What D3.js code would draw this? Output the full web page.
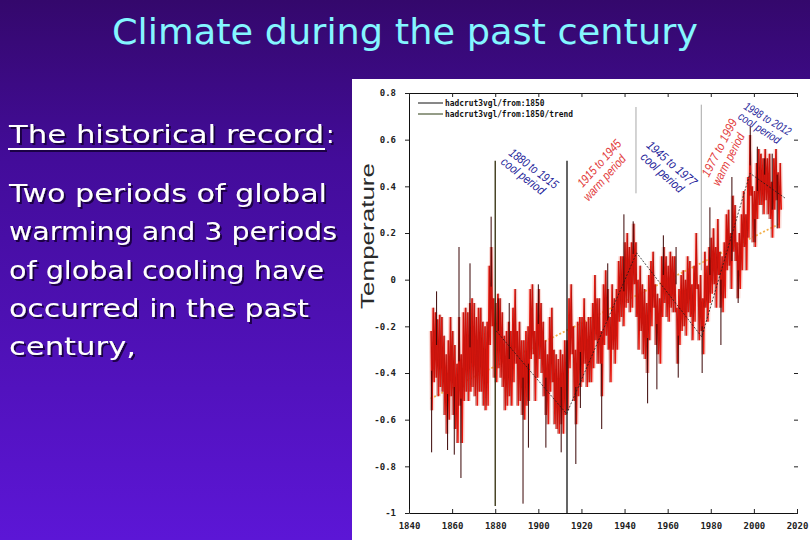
<!DOCTYPE html>
<html>
<head>
<meta charset="utf-8">
<script src="https://cdn.jsdelivr.net/npm/d3@7"></script>
<style>
html, body { margin: 0; padding: 0; background: #3a0a80; }
svg { display: block; }
</style>
</head>
<body>
<svg id="slide" width="810" height="540"></svg>
<script>
// ---- data ----
var firstYear = 1850;
// highest / lowest monthly value seen in each year, 1850..2012
var bandHigh = [
	-0.22,-0.12,-0.14,-0.17,-0.15,-0.16,-0.24,-0.32,-0.26,-0.16,
	-0.22,-0.28,-0.36,-0.16,-0.32,-0.14,-0.12,-0.14,-0.10,-0.08,
	-0.10,-0.16,-0.12,-0.12,-0.18,-0.20,-0.18, 0.06, 0.14,-0.08,
	-0.10,-0.06,-0.08,-0.14,-0.24,-0.22,-0.18,-0.22,-0.12,-0.04,
	-0.22,-0.18,-0.26,-0.26,-0.22,-0.20,-0.04,-0.02,-0.22,-0.10,
	-0.04,-0.10,-0.18,-0.26,-0.32,-0.16,-0.12,-0.30,-0.32,-0.34,
	-0.30,-0.32,-0.26,-0.26,-0.08,-0.02,-0.20,-0.30,-0.18,-0.16,
	-0.16,-0.08,-0.18,-0.16,-0.16,-0.10, 0.02,-0.08,-0.08,-0.22,
	-0.02, 0.04,-0.04,-0.16,-0.02,-0.08,-0.04, 0.08, 0.10, 0.10,
	 0.16, 0.20, 0.14, 0.16, 0.24, 0.16, 0.00, 0.06,-0.02,-0.04,
	-0.10, 0.02, 0.08, 0.12,-0.02,-0.06,-0.08, 0.10, 0.14, 0.10,
	 0.06, 0.12, 0.10, 0.10,-0.12,-0.04, 0.02, 0.04, 0.00, 0.10,
	 0.08,-0.02, 0.06, 0.20,-0.02, 0.02,-0.08, 0.12, 0.06, 0.14,
	 0.18, 0.22, 0.14, 0.26, 0.12, 0.10, 0.16, 0.28, 0.30, 0.20,
	 0.36, 0.32, 0.16, 0.20, 0.28, 0.38, 0.28, 0.44, 0.62, 0.40,
	 0.38, 0.50, 0.56, 0.54, 0.52, 0.56, 0.52, 0.54, 0.42, 0.52,
	 0.56, 0.46, 0.50
];
var bandLow = [
	-0.56,-0.44,-0.42,-0.50,-0.46,-0.48,-0.58,-0.66,-0.60,-0.50,
	-0.58,-0.64,-0.70,-0.54,-0.70,-0.52,-0.48,-0.52,-0.48,-0.46,
	-0.50,-0.54,-0.48,-0.48,-0.54,-0.56,-0.54,-0.28,-0.20,-0.42,
	-0.44,-0.38,-0.42,-0.46,-0.56,-0.54,-0.50,-0.54,-0.44,-0.36,
	-0.54,-0.52,-0.58,-0.60,-0.54,-0.52,-0.34,-0.32,-0.52,-0.42,
	-0.34,-0.40,-0.50,-0.58,-0.62,-0.48,-0.44,-0.62,-0.64,-0.66,
	-0.62,-0.66,-0.58,-0.56,-0.38,-0.32,-0.52,-0.62,-0.50,-0.46,
	-0.44,-0.36,-0.46,-0.44,-0.44,-0.38,-0.26,-0.36,-0.36,-0.50,
	-0.28,-0.24,-0.30,-0.44,-0.30,-0.36,-0.30,-0.18,-0.16,-0.20,
	-0.12,-0.10,-0.14,-0.12,-0.02,-0.16,-0.30,-0.22,-0.32,-0.34,
	-0.40,-0.26,-0.20,-0.12,-0.28,-0.32,-0.36,-0.16,-0.10,-0.16,
	-0.18,-0.12,-0.14,-0.14,-0.36,-0.28,-0.22,-0.20,-0.24,-0.14,
	-0.16,-0.26,-0.18,-0.04,-0.26,-0.22,-0.32,-0.12,-0.18,-0.10,
	-0.06,-0.02,-0.12, 0.02,-0.12,-0.14,-0.08, 0.04, 0.06,-0.04,
	 0.12, 0.08,-0.08,-0.04, 0.04, 0.14, 0.04, 0.18, 0.36, 0.16,
	 0.14, 0.26, 0.32, 0.32, 0.28, 0.34, 0.28, 0.26, 0.18, 0.30,
	 0.34, 0.22, 0.30
];
// single-month excursions drawn as dark spikes: [year, value]
var spikes = [
	[1850.5,-0.74],[1852.8,-0.05],[1857.9,-0.73],[1861.0,-0.75],[1863.2,0.14],
	[1864.1,-0.85],[1868.3,0.07],[1878.1,0.27],[1881.4,-0.08],[1886.5,-0.10],
	[1892.9,-0.96],[1895.4,-0.72],[1900.0,-0.02],[1903.5,-0.72],[1910.6,-0.74],
	[1917.4,-0.79],[1919.5,-0.55],[1929.4,-0.64],[1932.2,0.07],[1939.7,0.28],
	[1944.0,0.25],[1950.7,-0.53],[1955.0,-0.47],[1958.0,0.19],[1963.9,0.14],
	[1964.9,-0.42],[1976.0,-0.40],[1979.6,0.31],[1984.7,-0.28],[1989.8,0.44],
	[1992.7,-0.10],[1998.3,0.66],[2000.5,0.16],[2001.6,0.57],[2005.0,0.52],
	[2008.5,0.54],[2010.8,0.22]
];
// the hand-drawn period trend (dashed black) and the long trend (dotted)
var periodTrend = [[1880.5,-0.22],[1913.1,-0.575],[1945.6,0.115],[1975.8,-0.245],[1998.2,0.456],[2014.4,0.35]];
var longTrend = [[1850,-0.51],[2012,0.24]];
// vertical period markers: [year, top value, bottom value]
var blackMarkers = [[1880.0,0.51,-0.97],[1913.3,0.51,-1.0]];
var grayMarkers = [[1945.3,0.74,0.37],[1975.6,0.75,0.04]];

var xTicks = [1840,1860,1880,1900,1920,1940,1960,1980,2000,2020];
var yTicks = [-1,-0.8,-0.6,-0.4,-0.2,0,0.2,0.4,0.6,0.8];
var legendLabels = ["hadcrut3vgl/from:1850", "hadcrut3vgl/from:1850/trend"];
var periodText = [
	["1880 to 1915","cool period"],
	["1915 to 1945","warm period"],
	["1945 to 1977","cool period"],
	["1977 to 1999","warm period"],
	["1998 to 2012","cool period"]
];
var periodKind = ["cool","warm","cool","warm","cool"];

var titleText = "Climate during the past century";
var headingText = "The historical record";
var bodyLines = ["Two periods of global","warming and 3 periods","of global cooling have","occurred in the past","century,"];

// ---- slide ----
var svg = d3.select("#slide");
var defs = svg.append("defs");
var grad = defs.append("linearGradient").attr("id","bg")
	.attr("x1",0).attr("y1",0).attr("x2",0).attr("y2",1);
grad.append("stop").attr("offset","0%").attr("stop-color","#34086c");
grad.append("stop").attr("offset","30%").attr("stop-color","#430c9a");
grad.append("stop").attr("offset","100%").attr("stop-color","#5c16d6");

var shadow = defs.append("filter").attr("id","shadow")
	.attr("x","-5%").attr("y","-20%").attr("width","115%").attr("height","150%");
shadow.append("feDropShadow").attr("dx",2).attr("dy",2)
	.attr("stdDeviation",0.7).attr("flood-color","#14063a").attr("flood-opacity",0.9);

svg.append("rect").attr("width",810).attr("height",540).attr("fill","url(#bg)");

svg.append("text")
	.attr("x",112).attr("y",44)
	.attr("textLength",586).attr("lengthAdjust","spacingAndGlyphs")
	.style("font-family","'Comic Sans MS','DejaVu Sans',sans-serif")
	.style("font-size","36px")
	.attr("fill","#84f6ff")
	.text(titleText);

var body = svg.append("g").attr("filter","url(#shadow)")
	.style("font-family","'Comic Sans MS','DejaVu Sans',sans-serif")
	.style("font-size","25px")
	.attr("fill","#ffffff");

body.append("text").attr("x",9).attr("y",143)
	.attr("textLength",315).attr("lengthAdjust","spacingAndGlyphs")
	.text(headingText);
body.append("rect").attr("x",8).attr("y",148).attr("width",317).attr("height",2);
body.append("text").attr("x",326).attr("y",143).text(":");

var bodyWidths = [318,328,315,300,127];
body.selectAll("text.line")
	.data(bodyLines)
	.enter().append("text")
		.attr("class","line")
		.attr("x",9)
		.attr("y",function(d,i){ return 202 + i*38.3; })
		.attr("textLength",function(d,i){ return bodyWidths[i]; })
		.attr("lengthAdjust","spacingAndGlyphs")
		.text(function(d){ return d; });

// ---- chart panel ----
svg.append("rect").attr("x",352).attr("y",79).attr("width",458).attr("height",461).attr("fill","#ffffff");

var xscale = d3.scaleLinear().domain([1840,2020]).range([409,797]);
var yscale = d3.scaleLinear().domain([-1,0.8]).range([513,93]);

var chart = svg.append("g");

// band points: high then low inside each year (two phases for the two colours)
var redPts = [], darkPts = [];
bandHigh.forEach(function(h,i){
	var yr = firstYear + i;
	redPts.push([yr+0.2, h]); redPts.push([yr+0.7, bandLow[i]]);
	darkPts.push([yr+0.05, bandLow[i]]); darkPts.push([yr+0.5, h]);
});
var line = d3.line()
	.x(function(d){ return xscale(d[0]); })
	.y(function(d){ return yscale(d[1]); });

chart.append("path").attr("d",line(redPts))
	.attr("fill","none").attr("stroke","#f8b8b0").attr("stroke-width",4.5).attr("opacity",0.5);

// vertical markers
chart.selectAll("line.gmark").data(grayMarkers).enter().append("line")
	.attr("class","gmark")
	.attr("x1",function(d){ return xscale(d[0]); }).attr("x2",function(d){ return xscale(d[0]); })
	.attr("y1",function(d){ return yscale(d[1]); }).attr("y2",function(d){ return yscale(d[2]); })
	.attr("stroke","#a8a8a8").attr("stroke-width",1);

chart.append("path").attr("d",line(longTrend))
	.attr("fill","none").attr("stroke","#f2b04c").attr("stroke-width",1.8)
	.attr("stroke-dasharray","2,2");

chart.append("path").attr("d",line(redPts))
	.attr("fill","none").attr("stroke","#e8180e").attr("stroke-width",1.5);
chart.append("path").attr("d",line(darkPts))
	.attr("fill","none").attr("stroke","#7a0a0a").attr("stroke-width",0.5).attr("opacity",0.55);

chart.selectAll("line.spike").data(spikes).enter().append("line")
	.attr("class","spike")
	.attr("x1",function(d){ return xscale(d[0]); }).attr("x2",function(d){ return xscale(d[0]); })
	.attr("y1",function(d){
		var i = Math.min(bandHigh.length-1, Math.floor(d[0]) - firstYear);
		return yscale((bandHigh[i] + bandLow[i]) / 2);
	})
	.attr("y2",function(d){ return yscale(d[1]); })
	.attr("stroke","#3a0505").attr("stroke-width",1);

chart.selectAll("line.bmark").data(blackMarkers).enter().append("line")
	.attr("class","bmark")
	.attr("x1",function(d){ return xscale(d[0]); }).attr("x2",function(d){ return xscale(d[0]); })
	.attr("y1",function(d){ return yscale(d[1]); }).attr("y2",function(d){ return yscale(d[2]); })
	.attr("stroke",function(d,i){ return i === 0 ? "#2e2a08" : "#111"; }).attr("stroke-width",1.3);

chart.append("path").attr("d",line(periodTrend))
	.attr("fill","none").attr("stroke","#1a1a1a").attr("stroke-width",0.8)
	.attr("stroke-dasharray","2,1.5");

// ---- axes ----
var fmt = function(d){ return d === 0 ? "0" : String(+d.toFixed(1)); };
var tickFont = function(g){
	g.selectAll("text")
		.style("font-family","'DejaVu Sans Mono',monospace")
		.style("font-weight","bold")
		.style("font-size","9px")
		.attr("fill","#222");
	g.selectAll("line").attr("stroke","#222");
	g.select(".domain").attr("stroke","#111");
};

svg.append("g").attr("transform","translate(409,0)")
	.call(d3.axisLeft(yscale).tickValues(yTicks).tickFormat(fmt).tickSizeInner(4).tickSizeOuter(0).tickPadding(9))
	.call(tickFont);
svg.append("g").attr("transform","translate(0,513)")
	.call(d3.axisBottom(xscale).tickValues(xTicks).tickFormat(d3.format("d")).tickSizeInner(-4).tickSizeOuter(0).tickPadding(10))
	.call(tickFont);
svg.append("g").attr("transform","translate(0,93)")
	.call(d3.axisTop(xscale).tickValues(xTicks).tickFormat("").tickSizeInner(-4).tickSizeOuter(0))
	.call(tickFont);
var right = svg.append("g").attr("transform","translate(798,0)")
	.call(d3.axisRight(yscale).tickValues(yTicks).tickFormat("").tickSizeInner(-4).tickSizeOuter(0))
	.call(tickFont);
right.select(".domain").remove();

svg.append("text")
	.attr("transform","translate(374,236) rotate(-90)")
	.attr("text-anchor","middle")
	.attr("textLength",146).attr("lengthAdjust","spacingAndGlyphs")
	.style("font-family","'Liberation Sans',Arial,sans-serif")
	.style("font-size","18px")
	.attr("fill","#2a2a2a")
	.text("Temperature");

// ---- legend ----
var legend = svg.append("g");
legend.selectAll("line").data(legendLabels).enter().append("line")
	.attr("x1",418).attr("x2",443)
	.attr("y1",function(d,i){ return 103 + i*11; }).attr("y2",function(d,i){ return 103 + i*11; })
	.attr("stroke",function(d,i){ return i === 0 ? "#111" : "#2a3a10"; }).attr("stroke-width",1);
legend.selectAll("text").data(legendLabels).enter().append("text")
	.attr("x",445)
	.attr("y",function(d,i){ return 106 + i*11; })
	.attr("textLength",function(d){ return d.length * 4.74; })
	.attr("lengthAdjust","spacingAndGlyphs")
	.style("font-family","'DejaVu Sans Mono',monospace")
	.style("font-weight","bold")
	.style("font-size","9px")
	.attr("fill","#111")
	.text(function(d){ return d; });

// ---- period annotations ----
// placement of each text line in data units: [year, value, angle, length, font size]
var notePlace = [
	[[1897.9,0.477,37,58,12.5],[1893.0,0.445,38,52,12.5]],
	[[1928.2,0.499,-48,59,12.5],[1930.6,0.437,-48,57,12.5]],
	[[1962.0,0.498,41,62,12.5],[1957.6,0.459,42,53,12.5]],
	[[1983.9,0.566,-63,63,12.5],[1988.1,0.516,-63,57,12.5]],
	[[2006.4,0.690,31,53,11.5],[2002.6,0.650,33,48,11.5]]
];
var notes = svg.append("g")
	.style("font-family","'Liberation Sans',Arial,sans-serif")
	.style("font-style","italic");
periodText.forEach(function(lines,k){
	lines.forEach(function(t,j){
		var p = notePlace[k][j];
		notes.append("text")
			.attr("transform","translate(" + xscale(p[0]) + "," + yscale(p[1]) + ") rotate(" + p[2] + ")")
			.attr("text-anchor","middle")
			.attr("dy","0.35em")
			.attr("textLength",p[3]).attr("lengthAdjust","spacingAndGlyphs")
			.style("font-size",p[4] + "px")
			.attr("fill",periodKind[k] === "cool" ? "#24249a" : "#e23c3c")
			.text(t);
	});
});
</script>
</body>
</html>
